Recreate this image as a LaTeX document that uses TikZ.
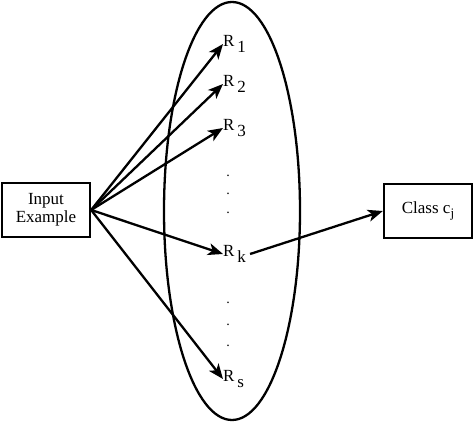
\documentclass[tikz,border=0pt]{standalone}
\usepackage{fontspec}
\setmainfont{Liberation Serif}
\usetikzlibrary{arrows.meta}
\begin{document}
\begin{tikzpicture}[x=1pt,y=-1pt,
  box/.style={draw,line width=2.3pt,inner sep=0pt,minimum width=88pt,minimum height=54pt,align=center,font=\fontsize{17}{18}\selectfont},
  rlab/.style={inner sep=0pt,anchor=west,font=\fontsize{17}{18}\selectfont},
  arr/.style={line width=2.3pt,-{Stealth[length=15pt,width=12pt,inset=4pt]}},
  dotl/.style={inner sep=0pt,font=\fontsize{14}{17}\selectfont}]
\useasboundingbox (0,0) rectangle (474,422);
\draw[line width=2.3pt] (232,211) ellipse [x radius=68, y radius=209];
\node[box] (inp) at (46,210) {Input\\[0pt]Example};
\node[box] (cls) at (428,211) {Class c\raisebox{-4pt}{\fontsize{13}{13}\selectfont j}};
\node[rlab] (r1) at (223,44) {R\,\raisebox{-6pt}{1}};
\node[rlab] (r2) at (223,84) {R\,\raisebox{-6pt}{2}};
\node[rlab] (r3) at (223,128) {R\,\raisebox{-6pt}{3}};
\node[rlab] (rk) at (223,254) {R\,\raisebox{-6pt}{k}};
\node[rlab] (rs) at (223,379) {R\,\raisebox{-6pt}{s}};
\foreach \y [count=\i] in {176,194,213,303,325,346} \node[dotl] (d\i) at (228,\y) {.};
\coordinate (src) at (inp.east);
\draw[arr] (src) -- (r1.west);
\draw[arr] (src) -- (r2.west);
\draw[arr] (src) -- (r3.west);
\draw[arr] (src) -- (rk.west);
\draw[arr] (src) -- (rs.west);
\draw[arr] (rk.east) ++(4pt,0) -- (cls.west);
\end{tikzpicture}
\end{document}
